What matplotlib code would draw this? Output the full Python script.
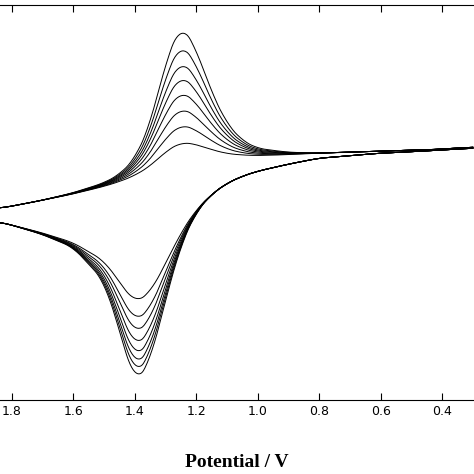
import matplotlib.pyplot as plt
import numpy as np

plt.rcParams['font.family'] = 'DejaVu Sans'

pot = [1.84, 1.8, 1.7, 1.6, 1.5, 1.45, 1.4, 1.35, 1.3, 1.25, 1.2, 1.15, 1.1, 1.05, 1.0, 0.9, 0.8, 0.6, 0.4, 0.3]

# anodic (forward) branch: baseline and normalised peak shape
ox_base = [-20.8, -20.6, -20.0, -19.4, -18.7, -18.3, -17.9, -17.5, -17.1, -16.8, -16.5, -16.2, -16.0, -15.8, -15.7, -15.5, -15.3, -15.1, -14.9, -14.7]
ox_shape = [0.0, 0.0, 0.0, 0.01, 0.03, 0.06, 0.14, 0.35, 0.75, 1.0, 0.8, 0.48, 0.25, 0.12, 0.06, 0.02, 0.0, 0.0, 0.0, 0.0]
ox_peak = [2.6, 4.4, 6.1, 7.8, 9.4, 10.9, 12.6, 14.5]  # peak height per cycle

# cathodic (reverse) branch
red_base = [-22.2, -22.5, -23.2, -24.0, -25.0, -25.6, -26.0, -25.6, -24.4, -22.6, -20.8, -19.4, -18.3, -17.6, -17.1, -16.4, -15.8, -15.3, -15.0, -14.8]
red_shape = [0.0, 0.0, 0.02, 0.06, 0.25, 0.6, 1.0, 0.85, 0.45, 0.15, 0.03, 0.0, 0.0, 0.0, 0.0, 0.0, 0.0, 0.0, 0.0, 0.0]
red_peak = [4.3, 6.2, 7.5, 8.8, 9.9, 10.8, 11.6, 12.4]


def smooth(x, y, n=9):
    xf = np.linspace(min(x), max(x), 600)
    yf = np.interp(xf, x[::-1], y[::-1])
    k = np.ones(n) / n
    ys = np.convolve(np.pad(yf, n // 2, mode='edge'), k, mode='valid')
    return xf, ys


fig = plt.figure(figsize=(4.74, 4.74), dpi=100)
ax = fig.add_axes([0.0, 0.156, 1.0, 0.833])

p = np.array(pot)
for a_ox, a_red in zip(ox_peak, red_peak):
    up = np.array(ox_base) + a_ox * np.array(ox_shape)
    dn = np.array(red_base) - a_red * np.array(red_shape)
    ax.plot(*smooth(p, up, 25), color='black', lw=0.7)
    ax.plot(*smooth(p, dn, 25), color='black', lw=0.7)

ax.set_xlim(1.839, 0.296)
ax.set_ylim(-40.0, -0.5)
ax.set_xticks([1.8, 1.6, 1.4, 1.2, 1.0, 0.8, 0.6, 0.4])
ax.set_xticklabels(['1.8', '1.6', '1.4', '1.2', '1.0', '0.8', '0.6', '0.4'])
ax.set_yticks([])
ax.tick_params(axis='x', top=True, direction='in', labelsize=9, length=5)
ax.spines['left'].set_visible(False)
ax.spines['right'].set_visible(False)
ax.set_xlabel('Potential / V', family='Liberation Serif', fontweight='bold', fontsize=14, labelpad=26)

plt.savefig('out.png', dpi=100)
